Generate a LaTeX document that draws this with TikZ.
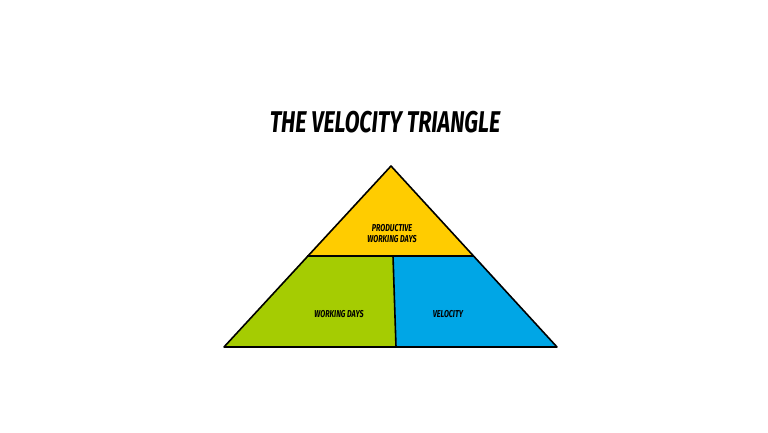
\documentclass[tikz,border=0pt]{standalone}
\usepackage{fontspec}
\newfontfamily\hand[FakeStretch=0.72]{Fira Sans}
\definecolor{yel}{HTML}{FFCC00}
\definecolor{grn}{HTML}{A5CC02}
\definecolor{blu}{HTML}{00A6E6}
\begin{document}
\begin{tikzpicture}[x=1pt,y=-1pt,
  part/.style={draw=black,line width=1.6pt,line join=round},
  lab/.style={font=\hand\bfseries\itshape\fontsize{10}{11}\selectfont,align=center,text=black}]
\useasboundingbox (0,0) rectangle (768,432);
\coordinate (A) at (391,166);
\coordinate (L) at (224,347);
\coordinate (R) at (557,347);
\coordinate (ML) at (307,256);
\coordinate (MR) at (474,256);
\coordinate (MT) at (393,256);
\coordinate (MB) at (396,347);
\fill[yel] (A) -- (MR) -- (ML) -- cycle;
\fill[grn] (ML) -- (MT) -- (MB) -- (L) -- cycle;
\fill[blu] (MT) -- (MR) -- (R) -- (MB) -- cycle;
\draw[part] (A) -- (R) -- (L) -- cycle;
\draw[part] (ML) -- (MR);
\draw[part] (MT) -- (MB);
\node[font=\hand\bfseries\itshape\fontsize{30}{32}\selectfont] (title) at (385,122) {THE VELOCITY TRIANGLE};
\node[lab] (p) at (392,234) {PRODUCTIVE\\WORKING DAYS};
\node[lab] (w) at (339,314) {WORKING DAYS};
\node[lab] (v) at (448,314) {VELOCITY};
\end{tikzpicture}
\end{document}
